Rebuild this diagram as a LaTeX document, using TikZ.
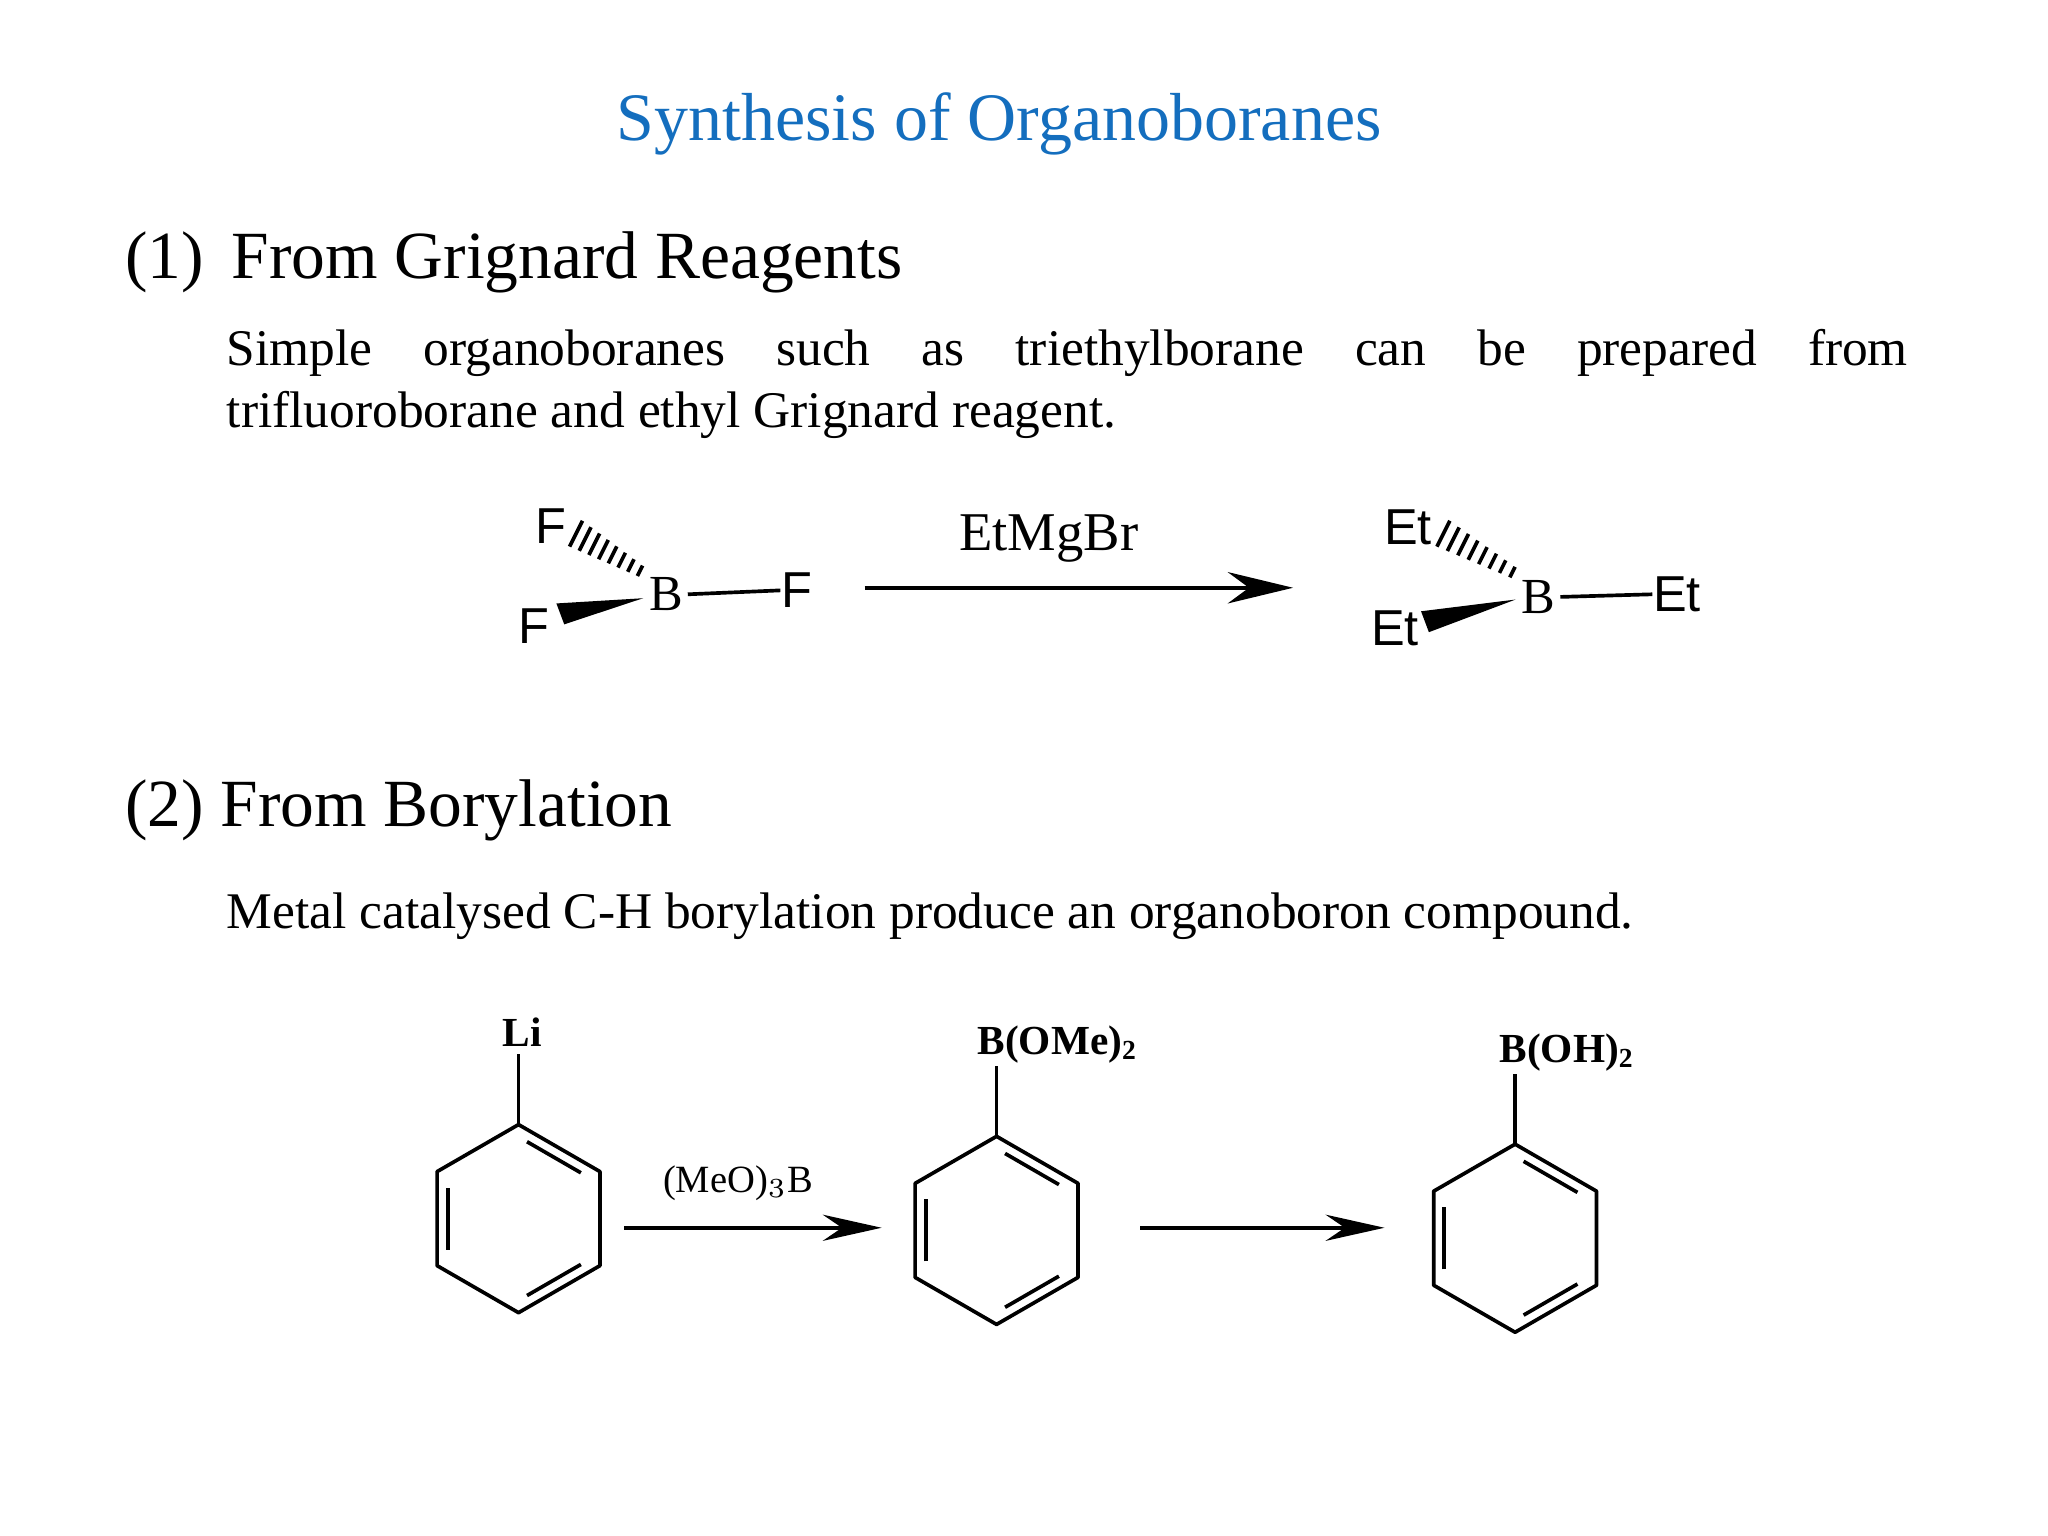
\documentclass[tikz,border=0pt]{standalone}
\usepackage{fontspec}
\setmainfont{Liberation Serif}
\newfontfamily\sansf{Liberation Sans}
\usetikzlibrary{arrows.meta,calc}
\definecolor{titleblue}{RGB}{20,110,190}
\begin{document}
\begin{tikzpicture}[x=0.1mm,y=-0.1mm,
  atom/.style={inner sep=0pt,font=\sansf\fontsize{11}{13}\selectfont},
  batom/.style={inner sep=0pt,font=\fontsize{11}{13}\selectfont},
  lbl/.style={inner sep=0pt,font=\bfseries\fontsize{9}{11}\selectfont},
  bond/.style={line width=0.8pt},
  rxn/.style={line width=0.9pt,-{Stealth[length=4.5mm,width=2mm]}},
  head/.style={anchor=base west,inner sep=0pt,font=\fontsize{14.7}{18}\selectfont},
  body/.style={anchor=base west,inner sep=0pt,font=\fontsize{11.2}{14}\selectfont}]
\useasboundingbox (0,0) rectangle (1568,1176);
\node[inner sep=0pt,text=titleblue,font=\fontsize{14.8}{18}\selectfont] (title) at (765,95) {Synthesis of Organoboranes};
\node[head] (h1) at (95,213) {(1)\ \,From Grignard Reagents};
\node[body] (p1) at (173,280) {\hbox to 128.7mm{Simple\hfill organoboranes\hfill such\hfill as\hfill triethylborane\hfill can\hfill be\hfill prepared\hfill from}};
\node[body] (p2) at (173,327) {trifluoroborane and ethyl Grignard reagent.};
\node[head] (h2) at (95,633) {(2) From Borylation};
\node[body] (p3) at (173,711) {Metal catalysed C-H borylation produce an organoboron compound.};
% molecule 1
\node[batom] (b1) at (510,455) {B};
\node[atom] (f1) at (610,452) {F};
\node[atom] (f2) at (422,403) {F};
\node[atom] (f3) at (409,479) {F};
\draw[bond] (b1.east) ++(3,0) -- (f1.west);
\fill ($(b1.west)+(-4,3)$) -- (426,462) -- (432,478) -- cycle;
\foreach \t in {0,0.14,...,1}{
  \path ($(490,437)!\t!(440,408)$) coordinate (q);
  \draw[line width=0.8pt] ($(q)+(-2-3*\t,4+6*\t)$) -- ($(q)+(2+3*\t,-4-6*\t)$);}
\coordinate (a1s) at (662,450);
\coordinate (a1e) at (990,450);
\draw[rxn,-{Stealth[length=5mm,width=2.4mm]}] (a1s) -- (a1e);
\node[inner sep=0pt,font=\fontsize{11.9}{14}\selectfont] (r1) at (803,412) {EtMgBr};
% molecule 2
\node[batom] (b2) at (1178,457) {B};
\node[atom] (e1) at (1284,455) {Et};
\node[atom] (e2) at (1078,404) {Et};
\node[atom] (e3) at (1068,481) {Et};
\draw[bond] (b2.east) ++(3,0) -- (e1.west);
\fill ($(b2.west)+(-4,2)$) -- (1088,468) -- (1094,484) -- cycle;
\foreach \t in {0,0.14,...,1}{
  \path ($(1158,438)!\t!(1104,408)$) coordinate (q);
  \draw[line width=0.8pt] ($(q)+(-2-3*\t,4+6*\t)$) -- ($(q)+(2+3*\t,-4-6*\t)$);}
% benzene rings
\foreach \n/\cx/\cy/\lab/\lx/\ly in {r1/397/933/Li/400/790, r2/763/942/{B(OMe)$_\mathbf{2}$}/810/800, r3/1160/948/{B(OH)$_\mathbf{2}$}/1200/806}{
  \foreach \i in {0,...,5} \coordinate (\n v\i) at ($(\cx,\cy)+({90+60*\i}:-72)$);
  \draw[bond,line join=round] (\n v0)--(\n v1)--(\n v2)--(\n v3)--(\n v4)--(\n v5)--cycle;
  \node[lbl] (\n l) at (\lx,\ly) {\lab};
  \coordinate (\n c) at (\cx,\cy);
  \draw[bond] ($(\cx,\cy)+(0,-72)$) -- ++(0,-54);
  \foreach \a/\b in {0/1,2/3,4/5}{
   \draw[bond] ($(\n v\a)!0.12!(\n v\b)!0.13!(\n c)$) -- ($(\n v\b)!0.12!(\n v\a)!0.13!(\n c)$);}
}
\coordinate (a2s) at (478,940);
\coordinate (a2e) at (675,940);
\coordinate (a3s) at (873,940);
\coordinate (a3e) at (1060,940);
\draw[rxn] (a2s) -- (a2e);
\node[inner sep=0pt,font=\fontsize{8.4}{10}\selectfont] (r2) at (565,906) {(MeO)$_3$B};
\draw[rxn] (a3s) -- (a3e);
\end{tikzpicture}
\end{document}
